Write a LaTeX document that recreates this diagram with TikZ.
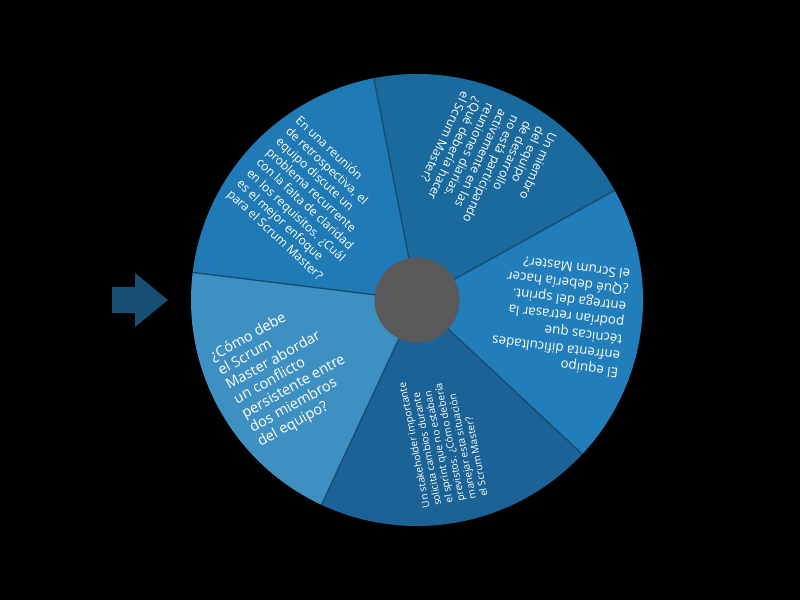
\documentclass[tikz,border=0pt]{standalone}
\usepackage{fontspec}
\setmainfont{Open Sans}
\usetikzlibrary{calc}
\definecolor{secTL}{HTML}{207AB5}
\definecolor{secTR}{HTML}{1B6A9D}
\definecolor{secR}{HTML}{217EBB}
\definecolor{secB}{HTML}{1B6396}
\definecolor{secL}{HTML}{3E90C2}
\definecolor{divcol}{HTML}{144B6E}
\definecolor{hubcol}{HTML}{595959}
\definecolor{arrowcol}{HTML}{174F74}
\begin{document}
\begin{tikzpicture}[x=1pt,y=1pt,
  divider/.style={draw=divcol,line width=1.3pt},
  hub/.style={circle,fill=hubcol,minimum size=85pt,inner sep=0pt},
  qtext/.style={text=white,align=left,inner sep=0pt}]
\fill[black] (0,0) rectangle (800,600);
\useasboundingbox (0,0) rectangle (800,600);
\coordinate (c) at (417,300);
\def\R{226}
\foreach \a/\col in {29/secTR,101/secTL,173/secL,245/secB,317/secR}{
  \fill[\col] (c) -- ++(\a:\R) arc[start angle=\a,end angle=\a+72,radius=\R] -- cycle;
}
\foreach \a in {29,101,173,245,317}{
  \draw[divider] (c) -- ++(\a:\R);
}
\node[hub] (hub) at (c) {};
\node[qtext,rotate=-43,font=\fontsize{12.1}{14.3}\selectfont] (qTL) at ($(c)+(137:146)$) {En una reunión\\de retrospectiva, el\\equipo discute un\\problema recurrente\\con la falta de claridad\\en los requisitos. ¿Cuál\\es el mejor enfoque\\para el Scrum Master?};
\node[qtext,rotate=-115,font=\fontsize{12.2}{13.8}\selectfont] (qTR) at ($(c)+(63:150)$) {Un miembro\\del equipo\\de desarrollo\\no está participando\\activamente en las\\reuniones diarias.\\¿Qué debería hacer\\el Scrum Master?};
\node[qtext,rotate=173,font=\fontsize{13.4}{16.5}\selectfont] (qR) at ($(c)+(-6.4:144)$) {El equipo\\enfrenta dificultades\\técnicas que\\podrían retrasar la\\entrega del sprint.\\¿Qué debería hacer\\el Scrum Master?};
\node[qtext,rotate=101,font=\fontsize{10.1}{11.8}\selectfont] (qB) at ($(c)+(280.5:142)$) {Un stakeholder importante\\solicita cambios durante\\el sprint que no estaban\\previstos. ¿Cómo debería\\manejar esta situación\\el Scrum Master?};
\node[qtext,rotate=29,font=\fontsize{14.5}{16.3}\selectfont] (qL) at ($(c)+(209:150)$) {¿Cómo debe\\el Scrum\\Master abordar\\un conflicto\\persistente entre\\dos miembros\\del equipo?};
\fill[arrowcol] (112,287) -- (135,287) -- (135,273) -- (168,300) -- (135,327) -- (135,313) -- (112,313) -- cycle;
\end{tikzpicture}
\end{document}
